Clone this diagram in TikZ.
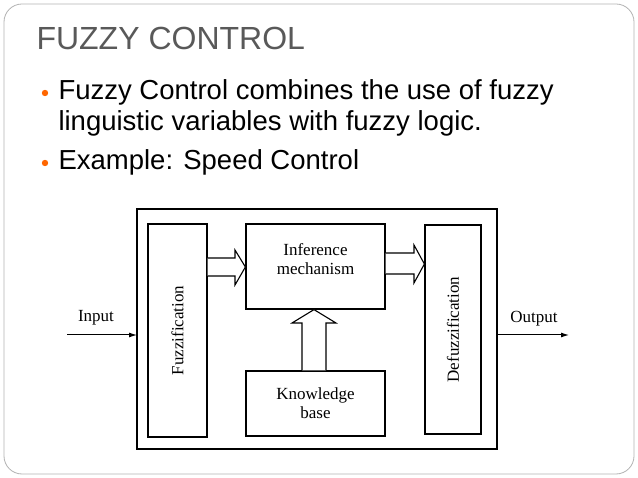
\documentclass[tikz,border=0pt]{standalone}
\usepackage{fontspec}
\usetikzlibrary{arrows.meta}
\setmainfont{Liberation Sans}
\newfontfamily\diag{Liberation Serif}
\begin{document}
\begin{tikzpicture}[x=1pt,y=-1pt,
  blk/.style={draw,line width=1.2pt,inner sep=0},
  dt/.style={font=\diag\fontsize{17}{19}\selectfont,align=center},
  bt/.style={anchor=base west,font=\fontsize{27.5}{31}\selectfont},
  fat/.style={draw,line width=1.1pt,fill=white,line join=miter}]
\useasboundingbox (0,0) rectangle (638,478);
\draw[gray!60,line width=0.8pt,rounded corners=18pt] (4,4) rectangle (634,474);
\node[anchor=base west,text=black!65,font=\fontsize{32}{36}\selectfont] (title) at (33,50) {FUZZY CONTROL};
\node[bt] (b1) at (55,100) {Fuzzy Control combines the use of fuzzy};
\node[bt] (b1b) at (55,131) {linguistic variables with fuzzy logic.};
\node[bt] (b2) at (55,170) {Example: Speed Control};
\fill[orange!80!red] (45,93) circle (3.2) (45,163) circle (3.2);
% boxes
\draw[blk] (137,209) rectangle (497,449);
\node[blk,minimum width=59,minimum height=213] (fz) at (177.5,330.5) {};
\node[dt,rotate=90] at (fz) {Fuzzification};
\node[blk,minimum width=139,minimum height=85] (inf) at (315.5,266.5) {};
\node[dt,anchor=north] at (315.5,240) {Inference\\mechanism};
\node[blk,minimum width=139,minimum height=65] (kb) at (315.5,403.5) {};
\node[dt] at (kb) {Knowledge\\base};
\node[blk,minimum width=56,minimum height=209] (df) at (453,329.5) {};
\node[dt,rotate=90] at (df) {Defuzzification};
% io
\coordinate (in) at (67,335);
\coordinate (out) at (569,335);
\draw[-{Latex[length=8pt,width=5pt]},line width=1pt] (in) -- (137,335);
\node[dt] at (96,318) {Input};
\draw[-{Latex[length=8pt,width=5pt]},line width=1pt] (497,335) -- (out);
\node[dt] at (534,319) {Output};
% double arrows
\draw[fat] (fz.east|-0,258) -- (235,258) -- (235,250) -- (inf.west|-0,267) -- (235,285) -- (235,276) -- (fz.east|-0,276);
\draw[fat] (inf.east|-0,253) -- (414,253) -- (414,245) -- (df.west|-0,264) -- (414,283) -- (414,274) -- (inf.east|-0,274);
\draw[fat] (302,0|-kb.north) -- (302,323) -- (292,323) -- (314,0|-inf.south) -- (336,323) -- (326,323) -- (326,0|-kb.north);
\end{tikzpicture}
\end{document}
